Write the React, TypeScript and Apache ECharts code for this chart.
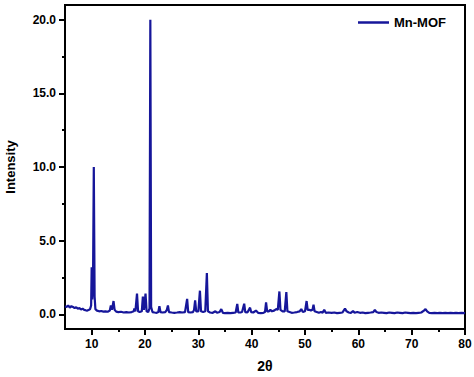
import React, { useEffect, useRef } from "react";
import * as echarts from "echarts";

const seriesName = "Mn-MOF";
const xLabelTicks = [10, 20, 30, 40, 50, 60, 70, 80];
const xMinorTicks = [15, 25, 35, 45, 55, 65, 75];
const yLabelTicks = [0, 5, 10, 15, 20];
const yMinorTicks = [2.5, 7.5, 12.5, 17.5];

const twoTheta = [
  5.0, 5.3, 5.6, 5.9, 6.2, 6.5, 6.8, 7.1, 7.4, 7.7, 8.0, 8.3, 8.6, 8.9, 9.2, 9.5, 9.7, 9.9, 10.0, 10.1, 10.25, 10.4, 10.55, 10.7,
  11.0, 11.4, 11.8, 12.2, 12.6, 13.0, 13.4, 13.6, 13.8, 14.1, 14.3, 14.6, 15.0, 15.5, 16.0, 16.5, 17.0, 17.5, 17.9, 18.0, 18.2,
  18.5, 18.7, 19.0, 19.4, 19.6, 19.8, 20.1, 20.3, 20.6, 20.85, 21.0, 21.15, 21.4, 21.8, 22.2, 22.5, 22.7, 22.9, 23.3, 23.8, 24.1,
  24.3, 24.5, 25.0, 25.5, 26.0, 26.5, 27.0, 27.5, 27.9, 28.1, 28.5, 29.0, 29.2, 29.4, 29.6, 30.0, 30.3, 30.5, 30.9, 31.3, 31.6,
  31.8, 32.2, 32.7, 33.2, 33.5, 34.0, 34.3, 34.6, 35.0, 35.5, 36.0, 36.5, 37.0, 37.3, 37.5, 37.9, 38.2, 38.6, 38.8, 39.2, 39.7,
  39.9, 40.3, 40.8, 41.2, 41.7, 42.2, 42.5, 42.7, 42.9, 43.2, 43.5, 43.8, 44.2, 44.6, 44.9, 45.2, 45.4, 45.8, 46.2, 46.5, 46.7,
  47.1, 47.5, 48.0, 48.5, 49.0, 49.3, 49.6, 50.0, 50.3, 50.5, 50.8, 51.1, 51.4, 51.6, 51.8, 52.2, 52.6, 53.0, 53.3, 53.6, 53.9,
  54.4, 55.0, 55.5, 56.0, 56.5, 57.0, 57.5, 57.8, 58.2, 58.6, 59.0, 59.3, 59.8, 60.3, 60.8, 61.3, 61.8, 62.3, 62.8, 63.1, 63.4,
  63.8, 64.3, 64.8, 65.3, 65.8, 66.3, 66.8, 67.3, 67.8, 68.3, 68.8, 69.3, 69.8, 70.3, 70.8, 71.3, 71.8, 72.3, 72.6, 72.9, 73.3,
  73.8, 74.3, 74.8, 75.3, 75.8, 76.3, 76.8, 77.3, 77.8, 78.3, 78.8, 79.3, 80.0,
];

const intensity = [
  0.55, 0.5, 0.6, 0.45, 0.55, 0.5, 0.42, 0.48, 0.38, 0.42, 0.33, 0.38, 0.3, 0.27, 0.25, 0.3, 0.35, 0.6, 3.2, 1.0, 2.0, 10.0, 1.2, 0.35,
  0.25, 0.2, 0.22, 0.18, 0.2, 0.17, 0.25, 0.6, 0.3, 0.9, 0.3, 0.18, 0.15, 0.17, 0.12, 0.15, 0.12, 0.15, 0.2, 0.4, 0.2,
  1.4, 0.2, 0.15, 0.2, 1.2, 0.3, 1.4, 0.2, 0.15, 0.4, 20.0, 0.5, 0.15, 0.12, 0.1, 0.15, 0.55, 0.15, 0.12, 0.15, 0.3,
  0.6, 0.15, 0.12, 0.1, 0.12, 0.15, 0.12, 0.15, 1.05, 0.15, 0.12, 0.15, 0.3, 0.95, 0.2, 0.2, 1.6, 0.2, 0.15, 0.2, 2.8,
  0.2, 0.12, 0.1, 0.2, 0.1, 0.15, 0.35, 0.1, 0.08, 0.1, 0.08, 0.1, 0.12, 0.7, 0.12, 0.12, 0.15, 0.72, 0.15, 0.12, 0.45,
  0.15, 0.12, 0.25, 0.1, 0.08, 0.1, 0.15, 0.8, 0.2, 0.2, 0.3, 0.2, 0.25, 0.35, 0.3, 1.55, 0.3, 0.2, 0.2, 1.5, 0.2,
  0.15, 0.1, 0.12, 0.15, 0.2, 0.35, 0.15, 0.2, 0.9, 0.3, 0.3, 0.25, 0.3, 0.65, 0.2, 0.15, 0.1, 0.15, 0.1, 0.3, 0.1,
  0.12, 0.1, 0.12, 0.08, 0.1, 0.12, 0.38, 0.2, 0.12, 0.1, 0.22, 0.1, 0.15, 0.1, 0.12, 0.08, 0.1, 0.12, 0.15, 0.3, 0.15,
  0.1, 0.12, 0.1, 0.08, 0.12, 0.1, 0.08, 0.12, 0.1, 0.08, 0.12, 0.1, 0.08, 0.1, 0.08, 0.1, 0.12, 0.25, 0.35, 0.2, 0.1,
  0.08, 0.1, 0.08, 0.1, 0.08, 0.1, 0.08, 0.1, 0.08, 0.1, 0.08, 0.1, 0.08,
];

const FONT = "'Liberation Sans', Arial, sans-serif";
const LINE_COLOR = "#16169a";

export default function App() {
  const ref = useRef<HTMLDivElement>(null);
  useEffect(() => {
    if (!ref.current) return;
    const chart = echarts.init(ref.current, null, { renderer: "svg" });
    const data = twoTheta.map((x, i) => [x, intensity[i]]);
    const labelStyle = { fontFamily: FONT, fontWeight: "bold" as const, fontSize: 12, color: "#000" };
    chart.setOption({
      animation: false,
      backgroundColor: "#fff",
      grid: {
        left: 65,
        right: 9,
        top: 5,
        bottom: 48,
        show: true,
        borderColor: "#000",
        borderWidth: 2,
        outerBoundsMode: "none",
      },
      legend: {
        left: 353,
        top: 11,
        icon: "rect",
        itemWidth: 31,
        itemHeight: 2.5,
        itemGap: 6,
        data: [{ name: seriesName }],
        textStyle: { fontFamily: FONT, fontWeight: "bold", fontSize: 13, color: "#000" },
      },
      xAxis: [
        {
          type: "value",
          min: 5,
          max: 80,
          interval: 5,
          position: "bottom",
          name: "2θ",
          nameLocation: "middle",
          nameGap: 30,
          nameTextStyle: { fontFamily: FONT, fontWeight: "bold", fontSize: 14, color: "#000" },
          axisLine: { show: true, onZero: false, lineStyle: { color: "#000", width: 2 } },
          axisTick: { show: true, customValues: xLabelTicks, length: 6, lineStyle: { color: "#000", width: 2 } },
          axisLabel: { ...labelStyle, margin: 9, customValues: xLabelTicks },
          splitLine: { show: false },
        },
        {
          type: "value",
          min: 5,
          max: 80,
          interval: 5,
          position: "bottom",
          axisLine: { show: false, onZero: false },
          axisTick: { show: true, customValues: xMinorTicks, length: 3, lineStyle: { color: "#000", width: 2 } },
          axisLabel: { show: false },
          splitLine: { show: false },
        },
      ],
      yAxis: [
        {
          type: "value",
          min: -1,
          max: 21,
          position: "left",
          name: "Intensity",
          nameLocation: "middle",
          nameGap: 48,
          nameRotate: 90,
          nameTextStyle: { fontFamily: FONT, fontWeight: "bold", fontSize: 13, color: "#000" },
          axisLine: { show: true, onZero: false, lineStyle: { color: "#000", width: 2 } },
          axisTick: { show: true, customValues: yLabelTicks, length: 6, lineStyle: { color: "#000", width: 2 } },
          axisLabel: {
            ...labelStyle,
            margin: 9,
            customValues: yLabelTicks,
            formatter: (v: number) => v.toFixed(1),
          },
          splitLine: { show: false },
        },
        {
          type: "value",
          min: -1,
          max: 21,
          position: "left",
          axisLine: { show: false, onZero: false },
          axisTick: { show: true, customValues: yMinorTicks, length: 3, lineStyle: { color: "#000", width: 2 } },
          axisLabel: { show: false },
          splitLine: { show: false },
        },
      ],
      series: [
        {
          name: seriesName,
          type: "line",
          xAxisIndex: 0,
          yAxisIndex: 0,
          data,
          symbol: "none",
          lineStyle: { color: LINE_COLOR, width: 2.2 },
          itemStyle: { color: LINE_COLOR },
        },
      ],
    });
    return () => chart.dispose();
  }, []);
  return <div ref={ref} style={{ width: 474, height: 377, position: "fixed", left: 0, top: 0 }} />;
}
